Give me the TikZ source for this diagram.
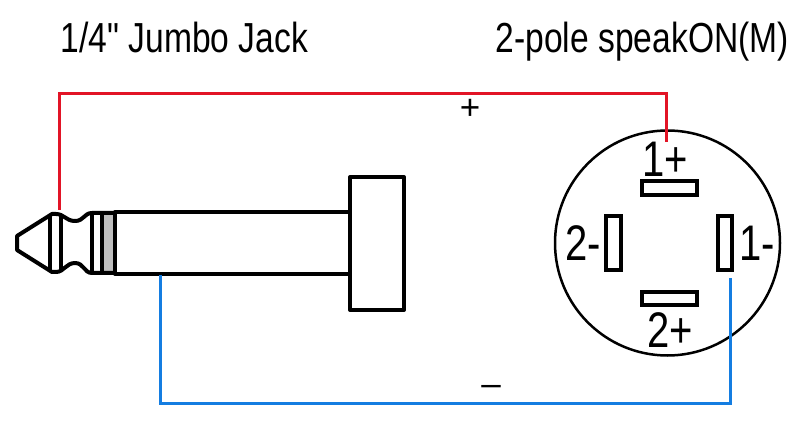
\documentclass[tikz,border=0pt]{standalone}
\usepackage{fontspec}
\newfontfamily\labfont{Liberation Sans}
\definecolor{redwire}{RGB}{226,20,38}
\definecolor{bluewire}{RGB}{20,125,225}
\definecolor{ringgrey}{RGB}{190,190,190}
\newcommand{\narrowtext}[1]{\scalebox{0.8}[1]{#1}}
\tikzset{
  outline/.style={draw=black,line width=4pt,line join=round},
  pin/.style={draw=black,line width=3.6pt,fill=white,line join=miter},
  wire/.style={line width=3pt,line join=miter},
  title/.style={anchor=base west,inner sep=0pt,font=\labfont\fontsize{42}{46}\selectfont},
  pinlabel/.style={anchor=base,inner sep=0pt,font=\labfont\fontsize{50}{54}\selectfont},
  signlabel/.style={anchor=base,inner sep=0pt,font=\labfont\fontsize{35}{38}\selectfont}
}
\begin{document}
\begin{tikzpicture}[x=1pt,y=-1pt]
\useasboundingbox (0,0) rectangle (800,430);
\fill[white] (0,0) rectangle (800,430);
\node[title] (tj) at (60.5,53) {\narrowtext{1/4" Jumbo Jack}};
\node[title] (ts) at (495.5,53) {\narrowtext{2-pole speakON(M)}};
% coordinates for wire ends
\coordinate (tip) at (59,210);
\coordinate (sleeve) at (160,275);
\coordinate (p1) at (666,142);
\coordinate (p2) at (730.5,278);
% speakON
\node[circle,draw=black,line width=2.5pt,minimum size=225pt,inner sep=0pt] (shell) at (667.5,243) {};
\draw[pin] (642,181) rectangle (697,195);
\draw[pin] (642,292) rectangle (697,305);
\draw[pin] (606,216) rectangle (621,270);
\draw[pin] (718,216) rectangle (732,270);
\node[pinlabel] (l1) at (665,177) {\narrowtext{1+}};
\node[pinlabel] (l2) at (670,347) {\narrowtext{2+}};
\node[pinlabel] (l3) at (583,261) {\narrowtext{2-}};
\node[pinlabel] (l4) at (757,261) {\narrowtext{1-}};
% jack
\fill[ringgrey] (102,213) rectangle (115,273);
\draw[outline] (350,177) rectangle (404,310);
\draw[outline] (350,212) -- (115,212) -- (115,274) -- (350,274);
\draw[outline] (115,213) -- (92,213) .. controls (84,213) and (84,221) .. (75,221)
  .. controls (66,221) and (64,214) .. (56,214) -- (52,214) -- (17,236) -- (17,250) -- (52,272) -- (56,272)
  .. controls (64,272) and (66,263) .. (75,263) .. controls (84,263) and (84,273) .. (92,273) -- (115,273);
\draw[outline] (50,215) -- (50,271);
\draw[outline] (61,216) -- (61,270);
\draw[outline] (92,213) -- (92,273);
\draw[outline] (102,213) -- (102,273);
% wires
\draw[wire,redwire] (tip) -- (59,94) -- (666,94) -- (p1);
\draw[wire,bluewire] (sleeve) -- (160,403) -- (730.5,403) -- (p2);
\node[signlabel] (plus) at (470,120) {+};
\node[signlabel] (minus) at (491,395) {–};
\end{tikzpicture}
\end{document}
